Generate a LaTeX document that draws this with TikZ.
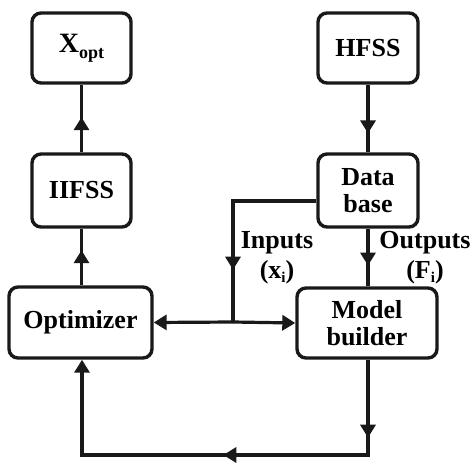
\documentclass[tikz,border=0pt]{standalone}
\usepackage{fontspec}
\setmainfont{Liberation Serif}
\usetikzlibrary{arrows.meta,decorations.markings}
\tikzset{
  blk/.style={draw=black!90, line width=3.4pt, rounded corners=9pt, align=center,
    inner sep=0pt, font=\bfseries\fontsize{26}{27}\selectfont},
  lbl/.style={font=\bfseries\fontsize{26}{27}\selectfont, anchor=base, inner sep=0pt},
  conn/.style={draw=black!90, line width=3.2pt},
  tipA/.tip={Triangle[length=13pt,width=15pt]},
  midarrow/.style={postaction={decorate}, decoration={markings,
    mark=at position #1 with {\arrow{tipA}}}},
  twoarrows/.style 2 args={postaction={decorate}, decoration={markings,
    mark=at position #1 with {\arrow{tipA}},
    mark=at position #2 with {\arrow{tipA}}}}
}
\begin{document}
\begin{tikzpicture}[x=1pt,y=-1pt]
\useasboundingbox (0,0) rectangle (474,474);
\node[blk, minimum width=99pt, minimum height=70pt] (xopt) at (81.5,48)
  {\fontsize{28}{28}\selectfont X\raisebox{-6pt}{\fontsize{18}{18}\selectfont opt}};
\node[blk, minimum width=100pt, minimum height=70pt] (hfss) at (368,48) {HFSS};
\node[blk, minimum width=99pt, minimum height=73pt] (iifss) at (81.5,190.5) {IIFSS};
\node[blk, minimum width=100pt, minimum height=73pt] (data) at (368,190.5) {Data\\base};
\node[blk, minimum width=143pt, minimum height=71pt] (opt) at (80.5,322.5) {Optimizer};
\node[blk, minimum width=140pt, minimum height=70pt] (model) at (367,323) {Model\\builder};

\node[lbl] (inp) at (277,248) {Inputs};
\node[lbl] (xi) at (277,278) {(x\raisebox{-4pt}{\fontsize{15}{15}\selectfont i})};
\node[lbl] (outp) at (425,248) {Outputs};
\node[lbl] (fi) at (425,278) {(F\raisebox{-4pt}{\fontsize{15}{15}\selectfont i})};

\coordinate (j1) at (233,201);
\coordinate (j2) at (233,322);
\coordinate (b1) at (368,455);
\coordinate (b2) at (82,455);

% left column
\draw[conn, midarrow=0.52] (iifss.north) -- (xopt.south);
\draw[conn, midarrow=0.62] (opt.north -| iifss.south) -- (iifss.south);
% right column
\draw[conn, midarrow=0.72] (hfss.south) -- (data.north);
\draw[conn, midarrow=0.64] (data.south) -- (data.south |- model.north);
% inputs
\draw[conn, line join=miter, midarrow={152pt}] ([yshift=-10.5pt]data.west) -- (j1) -- (j2);
\draw[conn, -{tipA}] (j2) -- (opt.east);
\draw[conn, -{tipA}] (j2) -- (model.west);
% feedback
\draw[conn, line join=miter, twoarrows={78pt}{240pt}, -{tipA}]
  (model.south -| b1) -- (b1) -- (b2) -- (b2 |- opt.south);
\end{tikzpicture}
\end{document}
